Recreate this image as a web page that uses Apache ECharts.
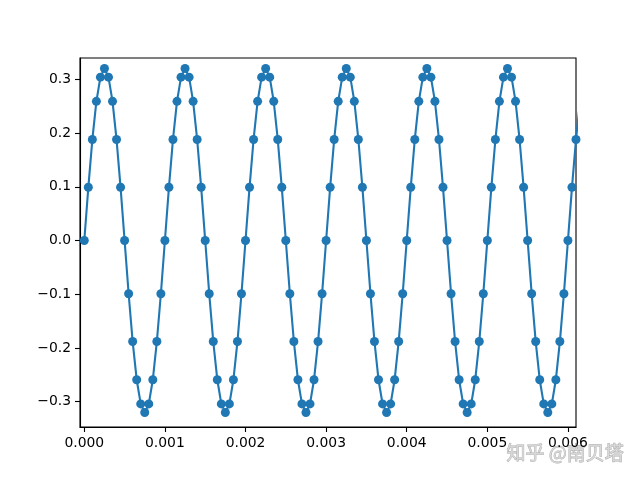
<!DOCTYPE html>
<html>
<head>
<meta charset="utf-8">
<script src="https://cdn.jsdelivr.net/npm/echarts@6/dist/echarts.min.js"></script>
<style>html,body{margin:0;padding:0;background:#fff}#c{width:640px;height:480px}</style>
</head>
<body>
<div id="c"></div>
<script>
const times = [
  0, 0.00005, 0.0001, 0.00015, 0.0002, 0.00025, 0.0003, 0.00035, 0.0004, 0.00045, 0.0005, 0.00055, 0.0006, 0.00065, 0.0007, 0.00075, 0.0008, 0.00085, 0.0009, 0.00095,
  0.001, 0.00105, 0.0011, 0.00115, 0.0012, 0.00125, 0.0013, 0.00135, 0.0014, 0.00145, 0.0015, 0.00155, 0.0016, 0.00165, 0.0017, 0.00175, 0.0018, 0.00185, 0.0019, 0.00195,
  0.002, 0.00205, 0.0021, 0.00215, 0.0022, 0.00225, 0.0023, 0.00235, 0.0024, 0.00245, 0.0025, 0.00255, 0.0026, 0.00265, 0.0027, 0.00275, 0.0028, 0.00285, 0.0029, 0.00295,
  0.003, 0.00305, 0.0031, 0.00315, 0.0032, 0.00325, 0.0033, 0.00335, 0.0034, 0.00345, 0.0035, 0.00355, 0.0036, 0.00365, 0.0037, 0.00375, 0.0038, 0.00385, 0.0039, 0.00395,
  0.004, 0.00405, 0.0041, 0.00415, 0.0042, 0.00425, 0.0043, 0.00435, 0.0044, 0.00445, 0.0045, 0.00455, 0.0046, 0.00465, 0.0047, 0.00475, 0.0048, 0.00485, 0.0049, 0.00495,
  0.005, 0.00505, 0.0051, 0.00515, 0.0052, 0.00525, 0.0053, 0.00535, 0.0054, 0.00545, 0.0055, 0.00555, 0.0056, 0.00565, 0.0057, 0.00575, 0.0058, 0.00585, 0.0059, 0.00595,
  0.006, 0.00605, 0.0061, 0.00615
];
const amplitudes = [
  0, 0.099, 0.188, 0.259, 0.304, 0.32, 0.304, 0.259, 0.188, 0.099, 0, -0.099, -0.188, -0.259, -0.304, -0.32, -0.304, -0.259, -0.188, -0.099,
  0, 0.099, 0.188, 0.259, 0.304, 0.32, 0.304, 0.259, 0.188, 0.099, 0, -0.099, -0.188, -0.259, -0.304, -0.32, -0.304, -0.259, -0.188, -0.099,
  0, 0.099, 0.188, 0.259, 0.304, 0.32, 0.304, 0.259, 0.188, 0.099, 0, -0.099, -0.188, -0.259, -0.304, -0.32, -0.304, -0.259, -0.188, -0.099,
  0, 0.099, 0.188, 0.259, 0.304, 0.32, 0.304, 0.259, 0.188, 0.099, 0, -0.099, -0.188, -0.259, -0.304, -0.32, -0.304, -0.259, -0.188, -0.099,
  0, 0.099, 0.188, 0.259, 0.304, 0.32, 0.304, 0.259, 0.188, 0.099, 0, -0.099, -0.188, -0.259, -0.304, -0.32, -0.304, -0.259, -0.188, -0.099,
  0, 0.099, 0.188, 0.259, 0.304, 0.32, 0.304, 0.259, 0.188, 0.099, 0, -0.099, -0.188, -0.259, -0.304, -0.32, -0.304, -0.259, -0.188, -0.099,
  0, 0.099, 0.188, 0.259
];
const xTicks = [0, 0.001, 0.002, 0.003, 0.004, 0.005, 0.006];
const yTicks = [-0.3, -0.2, -0.1, 0, 0.1, 0.2, 0.3];
const watermark = '知乎 @南贝塔';

const points = times.map((t, i) => [t, amplitudes[i]]);
const chart = echarts.init(document.getElementById('c'), null, {renderer: 'canvas'});
const font = 'DejaVu Sans';
chart.setOption({
  animation: false,
  backgroundColor: '#ffffff',
  grid: {left: 80, right: 64, top: 58, bottom: 53, show: true, borderColor: '#000', borderWidth: 1.1, backgroundColor: 'transparent'},
  xAxis: {
    type: 'value', min: -0.0000533, max: 0.0061,
    splitLine: {show: false},
    axisLine: {show: true, onZero: false, lineStyle: {color: '#000', width: 1.1}},
    axisTick: {show: true, length: 5, customValues: xTicks, lineStyle: {color: '#000', width: 1.1}},
    axisLabel: {customValues: xTicks, margin: 9, color: '#000', fontFamily: font, fontSize: 13.9, showMinLabel: true, showMaxLabel: true,
      formatter: v => v.toFixed(3)}
  },
  yAxis: {
    type: 'value', min: -0.347, max: 0.3396,
    splitLine: {show: false},
    axisLine: {show: true, onZero: false, lineStyle: {color: '#000', width: 1.1}},
    axisTick: {show: true, length: 5, customValues: yTicks, lineStyle: {color: '#000', width: 1.1}},
    axisLabel: {customValues: yTicks, margin: 9, color: '#000', fontFamily: font, fontSize: 13.9,
      formatter: v => (v < 0 ? '\u2212' : '') + Math.abs(v).toFixed(1)}
  },
  series: [{
    type: 'line', data: points, clip: true,
    symbol: 'circle', symbolSize: 9, showSymbol: true, showAllSymbol: true,
    lineStyle: {color: '#1f77b4', width: 2.1},
    itemStyle: {color: '#1f77b4', borderWidth: 0}
  }],
  graphic: [{
    type: 'text', left: 506, top: 443,
    style: {text: watermark, fill: 'rgba(215,215,215,0.9)', font: '19px "Noto Sans CJK SC"', stroke: 'rgba(150,150,150,0.8)', lineWidth: 0.8}
  }]
});
</script>
</body>
</html>
